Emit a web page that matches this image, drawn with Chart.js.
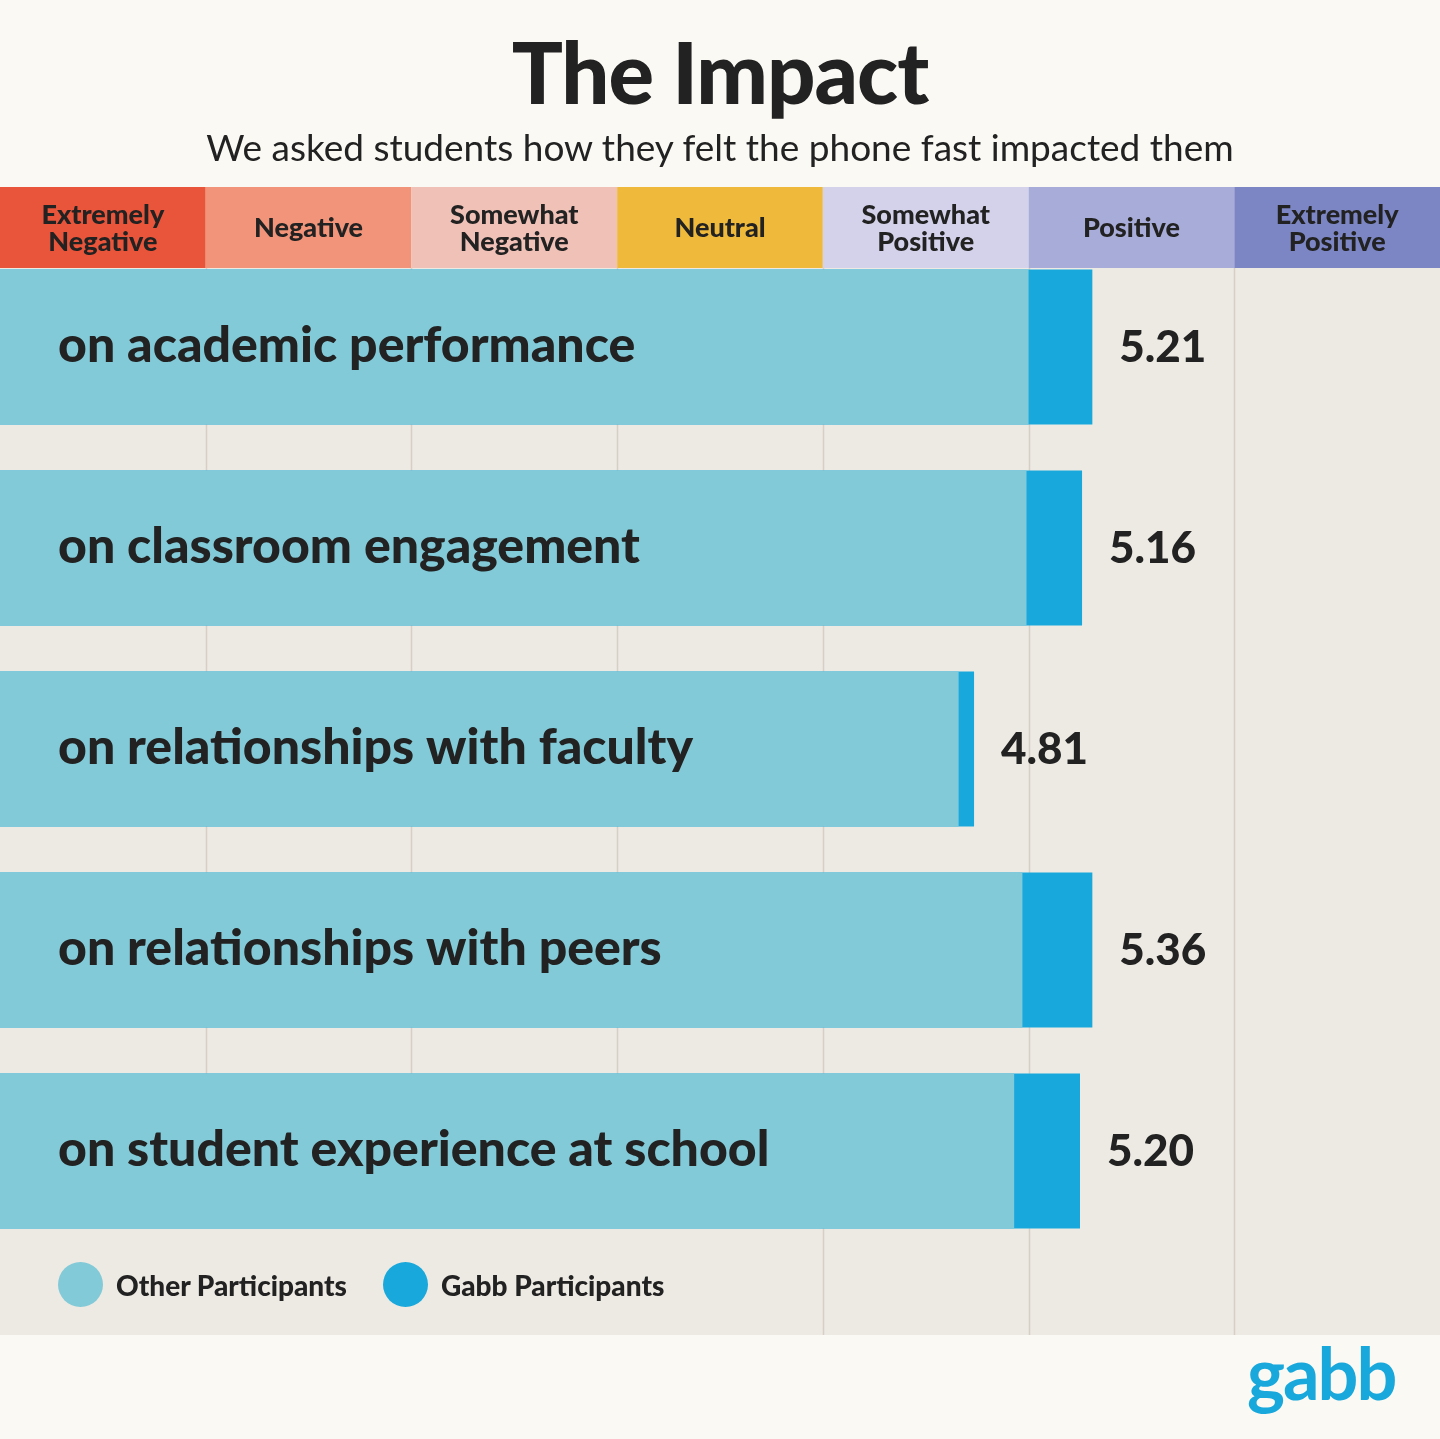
<!DOCTYPE html>
<html>
<head>
<meta charset="utf-8">
<script src="https://cdn.jsdelivr.net/npm/chart.js@4.4.1/dist/chart.umd.min.js"></script>
<style>
  html, body { margin: 0; padding: 0; background: #FAF9F4; }
  body { width: 1440px; height: 1439px; position: relative; overflow: hidden; font-family: Lato, sans-serif; color: #222; }
  #chart { position: absolute; left: 0; top: 0; }
  .title { position: absolute; top: 20px; left: 0; width: 1440px; text-align: center; font-size: 85px; font-weight: 900; letter-spacing: -1px; }
  .subtitle { position: absolute; top: 124px; left: 0; width: 1440px; text-align: center; font-size: 37px; font-weight: 400; }
  .legend { position: absolute; top: 1262px; left: 58px; display: flex; align-items: center; font-size: 28px; font-weight: 900; }
  .legend .dot { width: 45px; height: 45px; border-radius: 50%; margin-right: 13px; }
  .legend .item { display: flex; align-items: center; margin-right: 36px; }
  .logo { position: absolute; left: 1247px; top: 1329px; font-size: 72px; font-weight: 700; color: #19A8DC; letter-spacing: -2px; }
</style>
</head>
<body>
<canvas id="chart" width="1440" height="1439"></canvas>
<div class="title">The Impact</div>
<div class="subtitle">We asked students how they felt the phone fast impacted them</div>
<div class="legend">
  <div class="item"><div class="dot" style="background:#82CAD8"></div>Other Participants</div>
  <div class="item"><div class="dot" style="background:#19A8DC"></div>Gabb Participants</div>
</div>
<div class="logo">gabb</div>
<script>
// categories and values
const categories = ['on academic performance', 'on classroom engagement', 'on relationships with faculty', 'on relationships with peers', 'on student experience at school'];
const otherValues = [5.00, 4.99, 4.66, 4.97, 4.93];
const gabbValues = [5.31, 5.26, 4.735, 5.31, 5.25];
const scoreLabels = ['5.21', '5.16', '4.81', '5.36', '5.20'];

// rating scale across the top
const scaleLabels = [['Extremely', 'Negative'], ['Negative'], ['Somewhat', 'Negative'], ['Neutral'], ['Somewhat', 'Positive'], ['Positive'], ['Extremely', 'Positive']];
const scaleColors = ['#E9553A', '#F29479', '#F0C1B7', '#EFBA3B', '#D3D2EA', '#A8ACD9', '#7C86C4'];

const backdrop = {
    id: 'backdrop',
    beforeDatasetsDraw(chart) {
        const ctx = chart.ctx;
        const x = chart.scales.x;
        ctx.save();
        ctx.fillStyle = '#EDEAE3';
        ctx.fillRect(0, 268, 1440, 1335 - 268);
        // header cells
        for (let i = 0; i < scaleLabels.length; i++) {
            const x0 = x.getPixelForValue(i);
            const x1 = x.getPixelForValue(i + 1);
            ctx.fillStyle = scaleColors[i];
            ctx.fillRect(x0, 187, x1 - x0, 81);
            ctx.fillStyle = '#222';
            ctx.font = '900 27px Lato';
            ctx.textAlign = 'center';
            ctx.textBaseline = 'middle';
            const lines = scaleLabels[i];
            const cx = (x0 + x1) / 2;
            if (lines.length === 1) {
                ctx.fillText(lines[0], cx, 228);
            } else {
                ctx.fillText(lines[0], cx, 215);
                ctx.fillText(lines[1], cx, 242);
            }
        }
        // grid lines (left ones stop above the legend)
        ctx.strokeStyle = '#D5CFC6';
        ctx.lineWidth = 1.5;
        for (let i = 1; i < 7; i++) {
            const px = Math.round(x.getPixelForValue(i)) + 0.5;
            ctx.beginPath();
            ctx.moveTo(px, 268);
            ctx.lineTo(px, i < 4 ? 1228 : 1335);
            ctx.stroke();
        }
        ctx.restore();
    }
};

const barLabels = {
    id: 'barLabels',
    afterDatasetsDraw(chart) {
        const ctx = chart.ctx;
        const meta = chart.getDatasetMeta(1);
        ctx.save();
        ctx.fillStyle = '#222';
        ctx.textAlign = 'left';
        ctx.textBaseline = 'alphabetic';
        meta.data.forEach((bar, i) => {
            ctx.font = '900 44px Lato';
            ctx.fillText(scoreLabels[i], bar.x + 27, bar.y + 15);
            ctx.font = '900 50px Lato';
            ctx.fillText(categories[i], 58, bar.y + 15);
        });
        ctx.restore();
    }
};

new Chart(document.getElementById('chart'), {
    type: 'bar',
    data: {
        labels: categories,
        datasets: [{
            label: 'Other Participants',
            data: otherValues,
            backgroundColor: '#82CAD8',
            grouped: false,
            barPercentage: 0.771,
            categoryPercentage: 1
        }, {
            label: 'Gabb Participants',
            data: gabbValues,
            backgroundColor: '#19A8DC',
            grouped: false,
            barPercentage: 0.771,
            categoryPercentage: 1
        }]
    },
    options: {
        indexAxis: 'y',
        responsive: false,
        animation: false,
        devicePixelRatio: 1,
        layout: {
            padding: { left: 0, right: 0, top: 246.5, bottom: 187.5 }
        },
        plugins: {
            legend: { display: false },
            tooltip: { enabled: false }
        },
        scales: {
            x: { display: false, min: 0, max: 7 },
            y: { display: false }
        }
    },
    plugins: [backdrop, barLabels]
});
</script>
</body>
</html>
